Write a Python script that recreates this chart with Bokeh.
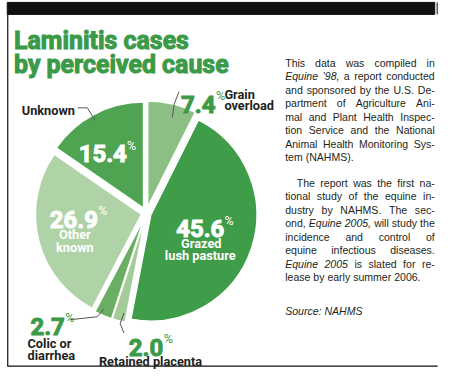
import math
from bokeh.plotting import figure
from bokeh.models import Range1d
from bokeh.core.properties import value
from bokeh.embed import file_html
from bokeh.resources import INLINE

# ---------------- data ----------------
causes = ["Grain overload", "Grazed lush pasture", "Retained placenta",
          "Colic or diarrhea", "Other known", "Unknown"]
shares = [7.4, 45.6, 2.0, 2.7, 26.9, 15.4]
pct_labels = ["7.4", "45.6", "2.0", "2.7", "26.9", "15.4"]
slice_colors = ["#8cbf84", "#3f9c48", "#a3cc99", "#6aae63", "#afd3a6", "#4ea450"]

title_lines = ["Laminitis cases", "by perceived cause"]
para1 = ["This data was compiled in",
         "*Equine* *\u201998,* a report conducted",
         "and sponsored by the U.S. De-",
         "partment of Agriculture Ani-",
         "mal and Plant Health Inspec-",
         "tion Service and the National",
         "Animal Health Monitoring Sys-",
         "tem (NAHMS)."]
para2 = ["The report was the first na-",
         "tional study of the equine in-",
         "dustry by NAHMS. The sec-",
         "ond, *Equine* *2005,* will study the",
         "incidence and control of",
         "equine infectious diseases.",
         "*Equine* *2005* is slated for re-",
         "lease by early summer 2006."]
source_text = "*Source:* *NAHMS*"

# ---------------- style ----------------
GREEN = "#3b9a47"
DARK = "#231f20"
HEAD = value("Roboto")
BODY = value("Liberation Sans")

REF_W, REF_H = 458, 386          # reference coordinate space
W, H = 442, 370                  # figure size in pixels
SX, SY = W / REF_W, H / REF_H
FS = SY                          # font scale


def fpx(size):
    return value("%.2fpx" % (size * FS))


def Y(py):
    return REF_H - py


p = figure(width=W, height=H, output_backend="svg", toolbar_location=None,
           x_range=Range1d(0, REF_W), y_range=Range1d(0, REF_H), min_border=0)
p.axis.visible = False
p.grid.visible = False
p.outline_line_color = None
p.background_fill_color = "white"

# frame: black bar, left and bottom rules
p.quad(left=[7], right=[450], bottom=[Y(14.5)], top=[Y(2)], color="#111111")
p.line(x=[452.5, 452.5], y=[Y(2), Y(14.5)], line_color="#111111", line_width=1)
p.line(x=[7.5, 7.5], y=[Y(14), Y(381.5)], line_color="#111111", line_width=1.2)
p.line(x=[7, 453], y=[Y(381.5), Y(381.5)], line_color="#111111", line_width=1.2)

# title
p.text(x=[14, 14], y=[Y(42), Y(67)], text=title_lines, text_font=HEAD,
       text_font_size=fpx(26), text_font_style="bold", text_color=GREEN,
       text_outline_color=GREEN,
       text_baseline="alphabetic", text_align="left")

# ---------------- pie ----------------
cx, cy, r = 151.0, 222.0, 110.0
explode = [6.5, 5.0, 5.0, 5.0, 5.0, 6.0]
total = sum(shares)
cum = 0.0
wx, wy, sa, ea = [], [], [], []
for s, e in zip(shares, explode):
    c0 = cum / total
    cum += s
    c1 = cum / total
    mid = math.pi * (c0 + c1)  # clockwise-from-top angle of bisector
    wx.append(cx + e * math.sin(mid))
    wy.append(Y(cy) + e * math.cos(mid))
    sa.append(math.pi / 2 - 2 * math.pi * c1)
    ea.append(math.pi / 2 - 2 * math.pi * c0)
p.wedge(x=wx, y=wy, radius=r, start_angle=sa, end_angle=ea,
        direction="anticlock", fill_color=slice_colors, line_color="white",
        line_width=1.5)

# leader lines
leaders_x = [[80, 90, 98], [185, 180, 178], [72, 100, 107], [128, 124, 128]]
leaders_y = [[112, 112, 125], [95, 108, 122], [333, 330, 322], [347, 337, 326]]
p.multi_line(xs=leaders_x, ys=[[Y(v) for v in ys] for ys in leaders_y],
             line_color="#555555", line_width=1)

# width tables (per 1000 em)
NUMW = {'.': 274}
for d in "0123456789":
    NUMW[d] = 562
HR = dict(zip("abcdefghijklmnopqrstuvwxyz",
              [556, 556, 500, 556, 556, 278, 556, 556, 222, 222, 500, 222, 833,
               556, 556, 556, 556, 333, 500, 278, 556, 500, 722, 500, 500, 500]))
HR.update(dict(zip("ABCDEFGHIJKLMNOPQRSTUVWXYZ",
                   [667, 667, 722, 722, 667, 611, 778, 722, 278, 500, 667, 556,
                    833, 722, 778, 667, 778, 722, 667, 611, 722, 667, 944, 667,
                    667, 611])))
HR.update({' ': 278, '.': 278, ',': 278, '-': 333, '(': 333, ')': 333,
           ':': 278, '\u2019': 222, "'": 191})
for d in "0123456789":
    HR[d] = 556

NUM_SIZE = 25.0
PCT_SIZE = 13.0
LAB_SIZE = 13.3


def num_width(s):
    return sum(NUMW.get(ch, 562) for ch in s) * NUM_SIZE * FS / SX / 1000.0


# percent labels: (index, left x, baseline y, colour)
pct_pos = {0: (187, 108, GREEN), 1: (182, 238, "white"), 2: (133, 362, GREEN),
           3: (31, 340, GREEN), 4: (51, 228, "white"), 5: (81, 160, "white")}
nx, ny, nt, ncol, px_, py_ = [], [], [], [], [], []
for i, (lx, by, col) in pct_pos.items():
    nx.append(lx); ny.append(Y(by)); nt.append(pct_labels[i]); ncol.append(col)
    px_.append(lx + num_width(pct_labels[i]) + 1.5)
    py_.append(Y(by - 9))
p.text(x=nx, y=ny, text=nt, text_color=ncol, text_outline_color=ncol,
       text_font=HEAD, text_font_size=fpx(NUM_SIZE), text_font_style="bold",
       text_baseline="alphabetic", text_align="left")
p.text(x=px_, y=py_, text=["%"] * len(px_), text_color=ncol, text_font=HEAD,
       text_font_size=fpx(PCT_SIZE), text_baseline="alphabetic",
       text_align="left")

# category labels
dark_lab = [("Grain", 232, 98), ("overload", 232, 110), ("Unknown", 22, 115),
            ("Colic or", 28, 358), ("diarrhea", 28, 370),
            ("Retained placenta", 102, 377)]
p.text(x=[d[1] for d in dark_lab], y=[Y(d[2]) for d in dark_lab],
       text=[d[0] for d in dark_lab], text_color=DARK, text_font=HEAD,
       text_font_size=fpx(LAB_SIZE), text_font_style="bold",
       text_baseline="alphabetic", text_align="left")
white_lab = [("Other", 77, 244), ("known", 77, 258), ("Grazed", 208, 253),
             ("lush pasture", 207, 266)]
p.text(x=[d[1] for d in white_lab], y=[Y(d[2]) for d in white_lab],
       text=[d[0] for d in white_lab], text_color="white", text_font=HEAD,
       text_font_size=fpx(LAB_SIZE), text_font_style="bold",
       text_baseline="alphabetic", text_align="center")

# ---------------- right-hand column (justified) ----------------
COL_L, COL_R = 295.0, 450.0
BODY_SIZE = 11.0
EFF = BODY_SIZE * FS / SX      # rendered size expressed in reference units
rx, ry, rt, rs = [], [], [], []


def place_line(line, base, indent, justify):
    items = []
    for w in line.split(" "):
        it = w.startswith("*") and w.endswith("*") and len(w) > 1
        items.append((w.strip("*") if it else w, it))
    widths = [sum(HR.get(ch, 556) for ch in t) * EFF / 1000.0 for t, _ in items]
    left = COL_L + indent
    gap = HR[' '] * EFF / 1000.0
    if justify and len(items) > 1:
        gap = max((COL_R - left - sum(widths)) / (len(items) - 1), 1.5)
    x = left
    for (t, it), w in zip(items, widths):
        rx.append(x); ry.append(Y(base)); rt.append(t)
        rs.append("italic" if it else "normal")
        x += w + gap


LS = 14.1
for k, ln in enumerate(para1):
    place_line(ln, 65 + k * LS, 0, k < len(para1) - 1)
for k, ln in enumerate(para2):
    place_line(ln, 190 + k * LS, 12 if k == 0 else 0, k < len(para2) - 1)
place_line(source_text, 324, 0, False)

p.text(x=rx, y=ry, text=rt, text_font_style=rs, text_color=DARK,
       text_font=BODY, text_font_size=fpx(BODY_SIZE),
       text_baseline="alphabetic", text_align="left")

open("out.html", "w").write(file_html(p, INLINE))
